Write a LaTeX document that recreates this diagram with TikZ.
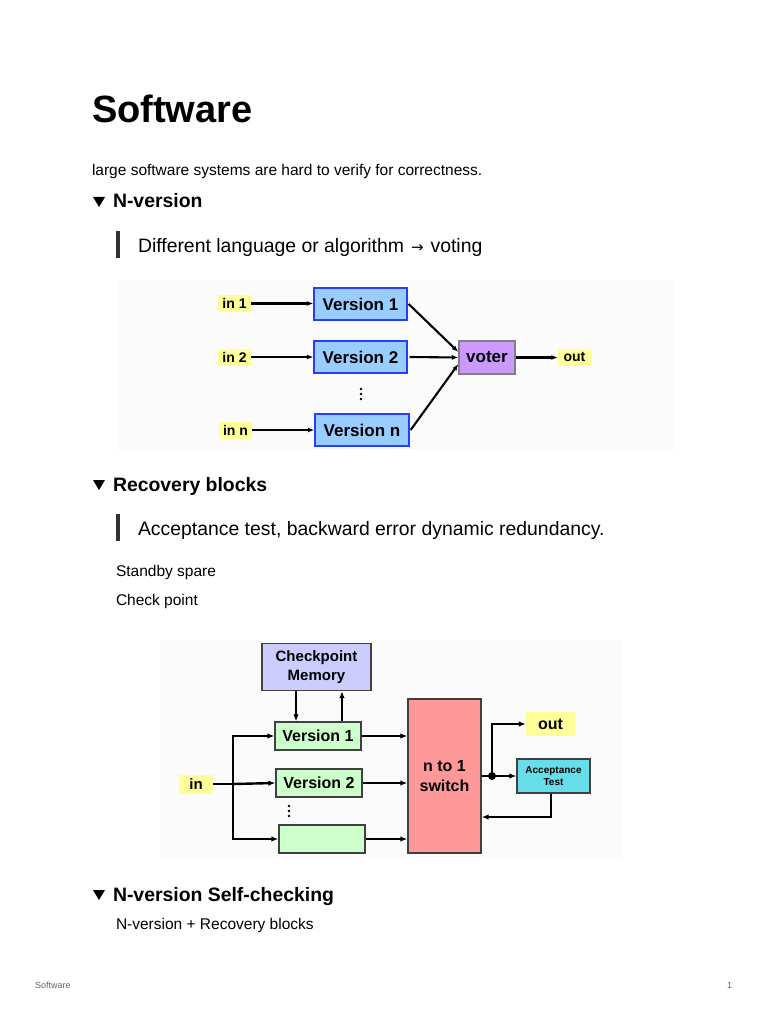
\documentclass[tikz,border=0pt]{standalone}
\usepackage{fontspec}
\setmainfont{Liberation Sans}
\newfontfamily\djv{DejaVu Sans}
\usetikzlibrary{arrows.meta,calc}
\definecolor{vblue}{RGB}{153,204,255}
\definecolor{vblueedge}{RGB}{40,60,255}
\definecolor{vpurple}{RGB}{204,153,255}
\definecolor{lyellow}{RGB}{255,255,153}
\definecolor{lgreen}{RGB}{204,255,204}
\definecolor{llav}{RGB}{204,204,255}
\definecolor{lred}{RGB}{255,153,153}
\definecolor{lcyan}{RGB}{102,221,232}
\definecolor{panel}{RGB}{251,251,251}
\begin{document}
\begin{tikzpicture}[x=1pt,y=-1pt,
  txt/.style={anchor=base west,inner sep=0pt,outer sep=0pt},
  bodyt/.style={txt,font=\fontsize{15.5}{18}\selectfont},
  headt/.style={txt,font=\fontsize{19.4}{22}\selectfont\bfseries},
  quotet/.style={txt,font=\fontsize{19.4}{22}\selectfont},
  bluebox/.style={draw=vblueedge,fill=vblue,line width=1.3pt,minimum width=93pt,minimum height=32pt,inner sep=0pt,font=\fontsize{17}{20}\selectfont\bfseries},
  ylab/.style={fill=lyellow,inner sep=0pt,font=\bfseries},
  grbox/.style={draw=black!75,fill=lgreen,line width=1.3pt,minimum width=86pt,minimum height=28pt,inner sep=0pt,font=\fontsize{16}{19}\selectfont\bfseries},
  arr/.style={-{Latex[length=6.5pt,width=5pt]},line width=2.1pt},
  arrb/.style={-{Latex[length=7pt,width=5.5pt]},line width=2.4pt},
  tri/.style={fill=black}]
\useasboundingbox (0,0) rectangle (768,1024);
\fill[white] (0,0) rectangle (768,1024);

% ---------- text ----------
\node[txt,font=\fontsize{38}{42}\selectfont\bfseries] (title) at (92,123) {Software};
\node[bodyt] (intro) at (92,176) {large software systems are hard to verify for correctness.};

\fill[tri] (93,197) -- (105,197) -- (99,207) -- cycle;
\node[headt] (h1) at (113,208) {N-version};
\fill[black!80] (116,231) rectangle (119.5,258);
\node[quotet] (q1) at (138,252) {Different language or algorithm\hspace{7pt}{\djv\fontsize{15}{18}\selectfont →}\hspace{7pt}voting};

\fill[tri] (93,480) -- (105,480) -- (99,490) -- cycle;
\node[headt] (h2) at (113,491) {Recovery blocks};
\fill[black!80] (116,514) rectangle (119.5,541);
\node[quotet] (q2) at (138,535) {Acceptance test, backward error dynamic redundancy.};
\node[bodyt] (t1) at (116,576) {Standby spare};
\node[bodyt] (t2) at (116,605) {Check point};

\fill[tri] (93,890) -- (105,890) -- (99,900) -- cycle;
\node[headt] (h3) at (113,901) {N-version Self-checking};
\node[bodyt] (t3) at (116,929) {N-version + Recovery blocks};

\node[txt,font=\fontsize{9}{11}\selectfont,text=black!60] (foot1) at (35,988) {Software};
\node[txt,font=\fontsize{9}{11}\selectfont,text=black!60] (foot2) at (727,988) {1};

% ---------- N-version diagram ----------
\fill[panel] (117,280) rectangle (675,450);
\node[bluebox] (v1) at (360.5,304) {Version 1};
\node[bluebox] (v2) at (360.5,357) {Version 2};
\node[bluebox,minimum width=94pt] (vn) at (362,430) {Version n};
\node[draw=black!50,fill=vpurple,line width=1.3pt,minimum width=56pt,minimum height=33pt,inner sep=0pt,font=\fontsize{17}{20}\selectfont\bfseries] (voter) at (487,357.5) {voter};
\node[ylab,minimum width=33pt,minimum height=17pt,font=\fontsize{14}{16}\selectfont\bfseries] (in1) at (234.5,303.5) {in 1};
\node[ylab,minimum width=33pt,minimum height=17pt,font=\fontsize{14}{16}\selectfont\bfseries] (in2) at (234.5,357) {in 2};
\node[ylab,minimum width=33pt,minimum height=17pt,font=\fontsize{14}{16}\selectfont\bfseries] (inn) at (235.5,430) {in n};
\node[ylab,minimum width=33pt,minimum height=17pt,font=\fontsize{14}{16}\selectfont\bfseries] (out1) at (574.5,357.5) {out};
\foreach \yy in {389,394,399} \fill (361,\yy) circle (1.4);
\draw[arr] (in1.east) -- (v1.west |- in1.east);
\draw[arr] (in2.east) -- (v2.west |- in2.east);
\draw[arr] (inn.east) -- (vn.west |- inn.east);
\draw[arr] ([xshift=1pt]v1.east) -- ([yshift=5.5pt]voter.west);
\draw[arr] ([xshift=2pt]v2.east) -- (voter.west);
\draw[arr] ([xshift=1pt]vn.east) -- ([yshift=-6.5pt]voter.west);
\draw[arr] (voter.east) -- (out1.west);

% ---------- Recovery blocks diagram ----------
\fill[panel] (160,640) rectangle (622,858);
\node[draw=black!75,fill=llav,line width=1.3pt,minimum width=109pt,minimum height=47pt,inner sep=0pt,align=center,font=\fontsize{15}{19.5}\selectfont\bfseries] (cm) at (316.5,667) {Checkpoint\\Memory};
\node[grbox] (b1) at (318,736) {Version 1};
\node[grbox] (b2) at (319,783) {Version 2};
\node[grbox] (b3) at (322,839) {};
\node[draw=black!75,fill=lred,line width=1.3pt,minimum width=73pt,minimum height=154pt,inner sep=0pt,align=center,font=\fontsize{16}{20}\selectfont\bfseries] (sw) at (444.5,776) {n to 1\\switch};
\node[ylab,minimum width=49pt,minimum height=24pt,font=\fontsize{16}{19}\selectfont\bfseries] (out2) at (550.5,724) {out};
\node[draw=black!75,fill=lcyan,line width=1.3pt,minimum width=73pt,minimum height=34pt,inner sep=0pt,align=center,font=\fontsize{10}{12}\selectfont\bfseries] (acc) at (553.5,776) {Acceptance\\Test};
\node[ylab,minimum width=34pt,minimum height=19pt,font=\fontsize{15}{18}\selectfont\bfseries] (inb) at (196,784) {in};
\foreach \yy in {806,811,816} \fill (289,\yy) circle (1.4);

\coordinate (split) at (233,784);
\coordinate (jn) at (492,776);
\coordinate (fbk) at (551,817);
\coordinate (cdown) at (296,0);
\coordinate (cup) at (342,0);
\draw[line width=2.4pt] (inb.east) -- (split);
\draw[arrb] (split) |- (b1.west);
\draw[arrb] (split) -- (b2.west);
\draw[arrb] (split) |- (b3.west);
\draw[arrb] (b1.east) -- (b1.east -| sw.west);
\draw[arrb] (b2.east) -- (b2.east -| sw.west);
\draw[arrb] (b3.east) -- (b3.east -| sw.west);
\draw[arrb] (cm.south -| cdown) -- (b1.north -| cdown);
\draw[arrb] (b1.north -| cup) -- (cm.south -| cup);
\draw[line width=2.4pt] (sw.east |- jn) -- (jn);
\draw[arrb] (jn) -- (acc.west);
\draw[arrb] (jn) |- (out2.west);
\fill (jn) circle (4);
\draw[arrb] (acc.south -| fbk) -- (fbk) -- (sw.east |- fbk);
\end{tikzpicture}
\end{document}
